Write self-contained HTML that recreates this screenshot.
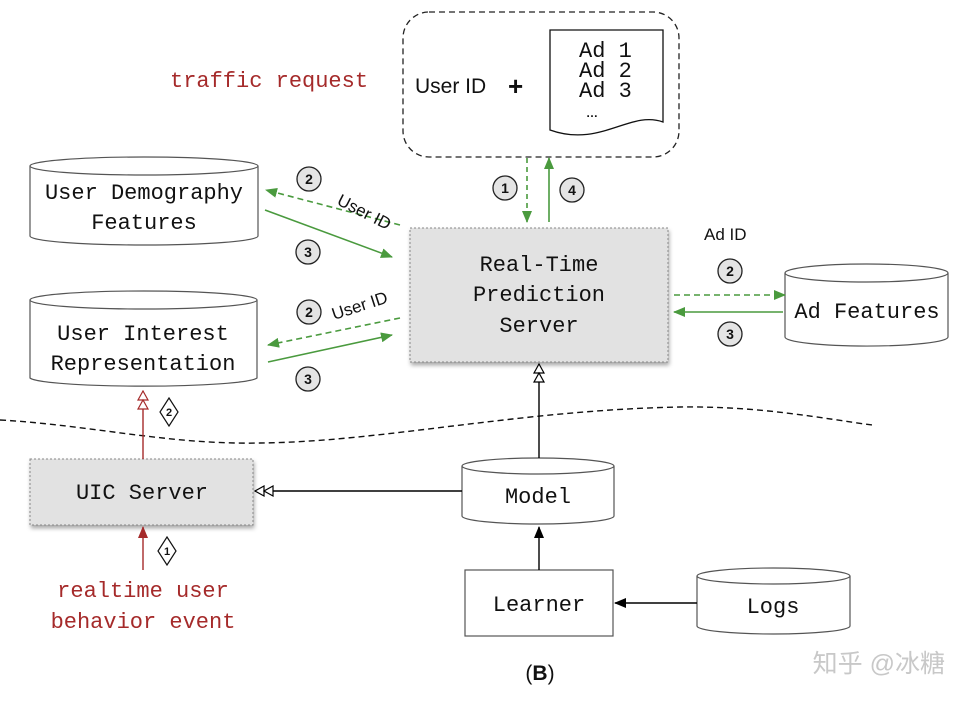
<!DOCTYPE html>
<html><head><meta charset="utf-8"><style>
html,body{margin:0;padding:0;background:#fff;}
svg{display:block;}
.m{font-family:"Liberation Mono",monospace;font-size:22px;fill:#111;}
.s{font-family:"Liberation Sans",sans-serif;}
</style></head><body>
<svg width="970" height="702" viewBox="0 0 970 702" xmlns="http://www.w3.org/2000/svg">
<defs>
<marker id="g" markerWidth="12" markerHeight="10" refX="11" refY="5" orient="auto" markerUnits="userSpaceOnUse"><path d="M0,0 L12,5 L0,10 Z" fill="#4a9a3e"/></marker>
<marker id="k" markerWidth="12" markerHeight="10" refX="11" refY="5" orient="auto" markerUnits="userSpaceOnUse"><path d="M0,0 L12,5 L0,10 Z" fill="#000"/></marker>
<marker id="r" markerWidth="12" markerHeight="10" refX="11" refY="5" orient="auto" markerUnits="userSpaceOnUse"><path d="M0,0 L12,5 L0,10 Z" fill="#a52a2a"/></marker>
<marker id="hk" markerWidth="20" markerHeight="12" refX="19" refY="6" orient="auto" markerUnits="userSpaceOnUse"><path d="M1,1 L10,6 L1,11 Z M10,1 L19,6 L10,11 Z" fill="#fff" stroke="#000" stroke-width="1.2"/></marker>
<marker id="hr" markerWidth="20" markerHeight="12" refX="19" refY="6" orient="auto" markerUnits="userSpaceOnUse"><path d="M1,1 L10,6 L1,11 Z M10,1 L19,6 L10,11 Z" fill="#fff" stroke="#a52a2a" stroke-width="1.2"/></marker>
<filter id="sh" x="-5%" y="-5%" width="115%" height="120%"><feDropShadow dx="1" dy="3" stdDeviation="2" flood-color="#000" flood-opacity="0.35"/></filter>
</defs>

<rect x="403" y="12" width="276" height="145" rx="26" fill="none" stroke="#222" stroke-width="1.3" stroke-dasharray="6,4"/>
<text x="415" y="93" class="s" font-size="21" fill="#111">User ID</text>
<text x="508" y="95" class="s" font-size="26" font-weight="bold" fill="#111">+</text>
<path d="M550,30 L663,30 L663,122 C630,110 600,148 550,130 Z" fill="#fff" stroke="#111" stroke-width="1.3"/>
<text x="579" y="57" class="m">Ad 1</text>
<text x="579" y="77" class="m">Ad 2</text>
<text x="579" y="97" class="m">Ad 3</text>
<text x="586" y="117" class="s" font-size="12" font-weight="bold" fill="#111">…</text>
<text x="170" y="87" class="m" style="fill:#a52a2a">traffic request</text>

<g fill="#fff" stroke="#555" stroke-width="1.2">
<path d="M30,166 L30,236 A114,9 0 0 0 258,236 L258,166"/>
<ellipse cx="144" cy="166" rx="114" ry="9"/>
<path d="M30,300 L30,378 A114,9 0 0 0 257,378 L257,300"/>
<ellipse cx="143.5" cy="300" rx="113.5" ry="9"/>
<path d="M785,273 L785,337 A81,9 0 0 0 948,337 L948,273"/>
<ellipse cx="866.5" cy="273" rx="81.5" ry="9"/>
<path d="M462,466 L462,516 A76,8 0 0 0 614,516 L614,466"/>
<ellipse cx="538" cy="466" rx="76" ry="8"/>
<path d="M697,576 L697,626 A76.5,8 0 0 0 850,626 L850,576"/>
<ellipse cx="773.5" cy="576" rx="76.5" ry="8"/>
</g>
<text x="144" y="199" class="m" text-anchor="middle">User Demography</text>
<text x="144" y="229" class="m" text-anchor="middle">Features</text>
<text x="143" y="340" class="m" text-anchor="middle">User Interest</text>
<text x="143" y="370" class="m" text-anchor="middle">Representation</text>
<text x="867" y="318" class="m" text-anchor="middle">Ad Features</text>
<text x="538" y="503" class="m" text-anchor="middle">Model</text>
<text x="773" y="613" class="m" text-anchor="middle">Logs</text>

<rect x="410" y="228" width="258" height="134" fill="#e2e2e2" stroke="#888" stroke-width="1" stroke-dasharray="2,2" filter="url(#sh)"/>
<text x="539" y="271" class="m" text-anchor="middle">Real-Time</text>
<text x="539" y="301" class="m" text-anchor="middle">Prediction</text>
<text x="539" y="332" class="m" text-anchor="middle">Server</text>
<rect x="30" y="459" width="223" height="66" fill="#e2e2e2" stroke="#888" stroke-width="1" stroke-dasharray="2,2" filter="url(#sh)"/>
<text x="142" y="499" class="m" text-anchor="middle">UIC Server</text>
<rect x="465" y="570" width="148" height="66" fill="#fff" stroke="#555" stroke-width="1.2"/>
<text x="539" y="611" class="m" text-anchor="middle">Learner</text>

<g stroke="#4a9a3e" stroke-width="1.6" fill="none">
<line x1="527" y1="158" x2="527" y2="222" stroke-dasharray="5,4" marker-end="url(#g)"/>
<line x1="549" y1="222" x2="549" y2="158" marker-end="url(#g)"/>
<line x1="400" y1="225" x2="266" y2="190" stroke-dasharray="6,4" marker-end="url(#g)"/>
<line x1="265" y1="210" x2="392" y2="257" marker-end="url(#g)"/>
<line x1="400" y1="318" x2="268" y2="345" stroke-dasharray="6,4" marker-end="url(#g)"/>
<line x1="268" y1="362" x2="392" y2="335" marker-end="url(#g)"/>
<line x1="674" y1="295" x2="785" y2="295" stroke-dasharray="6,4" marker-end="url(#g)"/>
<line x1="783" y1="312" x2="674" y2="312" marker-end="url(#g)"/>
</g>
<text class="s" font-size="17" fill="#111" transform="translate(336,204) rotate(27)">User ID</text>
<text class="s" font-size="17" fill="#111" transform="translate(334,320) rotate(-18)">User ID</text>
<text x="704" y="240" class="s" font-size="17" fill="#111">Ad ID</text>

<g fill="#e4e4e4" stroke="#222" stroke-width="1.3">
<circle cx="505" cy="188" r="12"/><circle cx="572" cy="190" r="12"/>
<circle cx="309" cy="179" r="12"/><circle cx="308" cy="252" r="12"/>
<circle cx="309" cy="312" r="12"/><circle cx="308" cy="379" r="12"/>
<circle cx="730" cy="271" r="12"/><circle cx="730" cy="334" r="12"/>
</g>
<g class="s" font-size="14" font-weight="bold" fill="#111" text-anchor="middle">
<text x="505" y="193">1</text><text x="572" y="195">4</text>
<text x="309" y="184">2</text><text x="308" y="257">3</text>
<text x="309" y="317">2</text><text x="308" y="384">3</text>
<text x="730" y="276">2</text><text x="730" y="339">3</text>
</g>

<path d="M0,420 C90,425 170,445 260,443 C380,442 520,410 680,407 C760,406 820,418 872,425" fill="none" stroke="#111" stroke-width="1.4" stroke-dasharray="6,4"/>

<g stroke="#000" stroke-width="1.4" fill="none">
<line x1="539" y1="458" x2="539" y2="364" marker-end="url(#hk)"/>
<line x1="462" y1="491" x2="255" y2="491" marker-end="url(#hk)"/>
<line x1="539" y1="570" x2="539" y2="527" marker-end="url(#k)"/>
<line x1="697" y1="603" x2="615" y2="603" marker-end="url(#k)"/>
</g>
<g stroke="#a52a2a" stroke-width="1.4" fill="none">
<line x1="143" y1="459" x2="143" y2="391" marker-end="url(#hr)"/>
<line x1="143" y1="570" x2="143" y2="527" marker-end="url(#r)"/>
</g>
<g fill="#fff" stroke="#111" stroke-width="1.2">
<path d="M169,398 L178,412 L169,426 L160,412 Z"/>
<path d="M167,537 L176,551 L167,565 L158,551 Z"/>
</g>
<g class="s" font-size="11" font-weight="bold" fill="#111" text-anchor="middle">
<text x="169" y="416">2</text><text x="167" y="555">1</text>
</g>
<text x="143" y="597" class="m" text-anchor="middle" style="fill:#a52a2a">realtime user</text>
<text x="143" y="628" class="m" text-anchor="middle" style="fill:#a52a2a">behavior event</text>

<text x="540" y="680" class="s" font-size="21" fill="#111" text-anchor="middle">(<tspan font-weight="bold">B</tspan>)</text>
<text x="945" y="672" font-family="'Liberation Sans','Noto Sans CJK SC',sans-serif" font-size="25" fill="#c8c8c8" text-anchor="end">知乎 @冰糖</text>
</svg>
</body></html>
